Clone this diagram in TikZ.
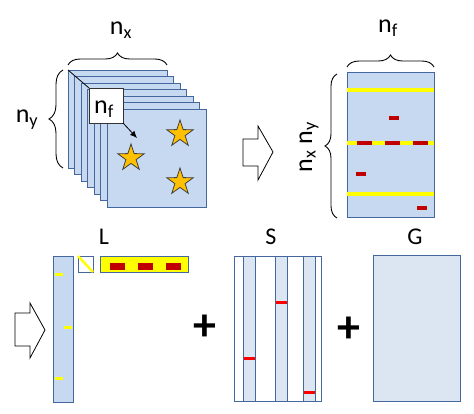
\documentclass[tikz,border=0pt]{standalone}
\usepackage{fontspec}
\setmainfont{Carlito}
\usetikzlibrary{positioning,shapes.geometric,decorations.pathreplacing,arrows.meta}
\definecolor{frameblue}{RGB}{198,217,241}
\definecolor{paleblue}{RGB}{220,230,242}
\definecolor{edgeblue}{RGB}{68,104,158}
\definecolor{darkred}{RGB}{192,0,0}
\definecolor{brightred}{RGB}{255,0,0}
\definecolor{starfill}{RGB}{255,192,0}
\definecolor{hiyellow}{RGB}{255,255,0}
\tikzstyle{frame}=[draw=edgeblue, fill=frameblue, line width=0.8, outer sep=0, inner sep=0, anchor=north west]
\tikzstyle{palebox}=[frame, fill=paleblue]
\tikzstyle{plainbox}=[frame, fill=white]
\tikzstyle{star5}=[star, star points=5, star point ratio=2.6, minimum size=28, inner sep=0, fill=starfill, draw=black!75, line width=0.8]
\tikzstyle{brc}=[decorate, decoration={brace, amplitude=12pt}, line width=0.9]
\tikzstyle{dimlabel}=[font=\fontsize{26}{30}\selectfont, inner sep=0, anchor=base]
\tikzstyle{letter}=[font=\fontsize{24}{28}\selectfont, inner sep=0, anchor=base]
\tikzstyle{plus}=[font=\fontsize{46}{46}\selectfont\bfseries, inner sep=0]
\tikzstyle{hollow}=[draw, fill=white, line width=0.8, line join=miter]
\tikzstyle{yelline}=[hiyellow, line width=4]
\tikzstyle{redmark}=[darkred, line width=3.5]
\begin{document}
\begin{tikzpicture}[x=1pt, y=-1pt, >={Latex[length=7pt,width=6pt]}]
\useasboundingbox (0,0) rectangle (474,414);
% stack of frames
\foreach \i in {0,...,6}
  \draw[draw=edgeblue, fill=frameblue, line width=0.8] ({68+6.5*\i},{70+6.5*\i}) rectangle +(99,98);
\coordinate (corner) at (68,70);
\coordinate (target) at (137,138);
\node[star5] (s1) at (180,134) {};
\node[star5] (s2) at (131,158) {};
\node[star5] (s3) at (180,182) {};
\node[plainbox, draw=black!80, minimum width=34, minimum height=35] (nf) at (89,88) {};
\node[dimlabel] at (104,114) {n\textsubscript{f}};
\draw[line width=0.8] (corner) -- (nf.north west);
\draw[->, line width=0.8] (nf.south east) -- (target);
\draw[brc] (68,65) -- (167,65);
\node[dimlabel] (nx) at (121,35) {n\textsubscript{x}};
\draw[brc, decoration={amplitude=14pt}] (63,168) -- (63,70);
\node[dimlabel] (ny) at (27,123) {n\textsubscript{y}};
% first arrow
\draw[hollow] (243,139) -- (258,139) -- (258,126) -- (273,152) -- (258,180) -- (258,166) -- (243,166) -- cycle;
% flattened matrix
\node[frame, minimum width=87, minimum height=145] (mat) at (347,72) {};
\foreach \y in {90,143,194}
  \draw[yelline] (347,\y) -- (434,\y);
\foreach \x/\y/\w in {394/118/10, 364/143/15, 392/143/15, 420/143/15, 361/174/10, 422/208/10}
  \draw[redmark] ({\x-\w/2},\y) -- ({\x+\w/2},\y);
\draw[brc] (347,67) -- (434,67);
\node[dimlabel] (nfb) at (388,33) {n\textsubscript{f}};
\draw[brc] (337,218) -- (337,74);
\node[dimlabel, rotate=90] (nxy) at (312,147) {n\textsubscript{x} n\textsubscript{y}};
% second arrow
\draw[hollow] (15,313) -- (30,313) -- (30,303) -- (45,330) -- (30,358) -- (30,346) -- (15,346) -- cycle;
% L part
\node[frame, minimum width=20, minimum height=146] (Lcol) at (53,256) {};
\foreach \x/\y in {59/274, 68/327, 59/378}
  \draw[hiyellow, line width=3] ({\x-4},\y) -- ({\x+4},\y);
\node[plainbox, minimum width=15, minimum height=16] (Lsq) at (78,256) {};
\draw[hiyellow, line width=2.5] (Lsq.north west) -- (Lsq.south east);
\node[frame, fill=hiyellow, minimum width=88, minimum height=16] (Lbar) at (100,256) {};
\foreach \x in {110,138,166}
  \fill[darkred] (\x,263) rectangle +(15,7);
\node[letter] (Llab) at (104,245) {L};
\node[plus] (plusA) at (205,328) {+};
% S part
\node[plainbox, minimum width=87, minimum height=145] (Sbox) at (234,256) {};
\foreach \x in {243,275,303}
  \draw[draw=edgeblue, fill=paleblue, line width=0.8] (\x,256) rectangle +(12,145);
\foreach \x/\y in {249/358, 281/302, 309/392}
  \draw[brightred, line width=3] ({\x-5.5},\y) -- ({\x+5.5},\y);
\node[letter] (Slab) at (271,245) {S};
\node[plus] (plusB) at (349,330) {+};
% G part
\node[palebox, minimum width=87, minimum height=146] (Gbox) at (373,255) {};
\node[letter] (Glab) at (415,245) {G};
\end{tikzpicture}
\end{document}
